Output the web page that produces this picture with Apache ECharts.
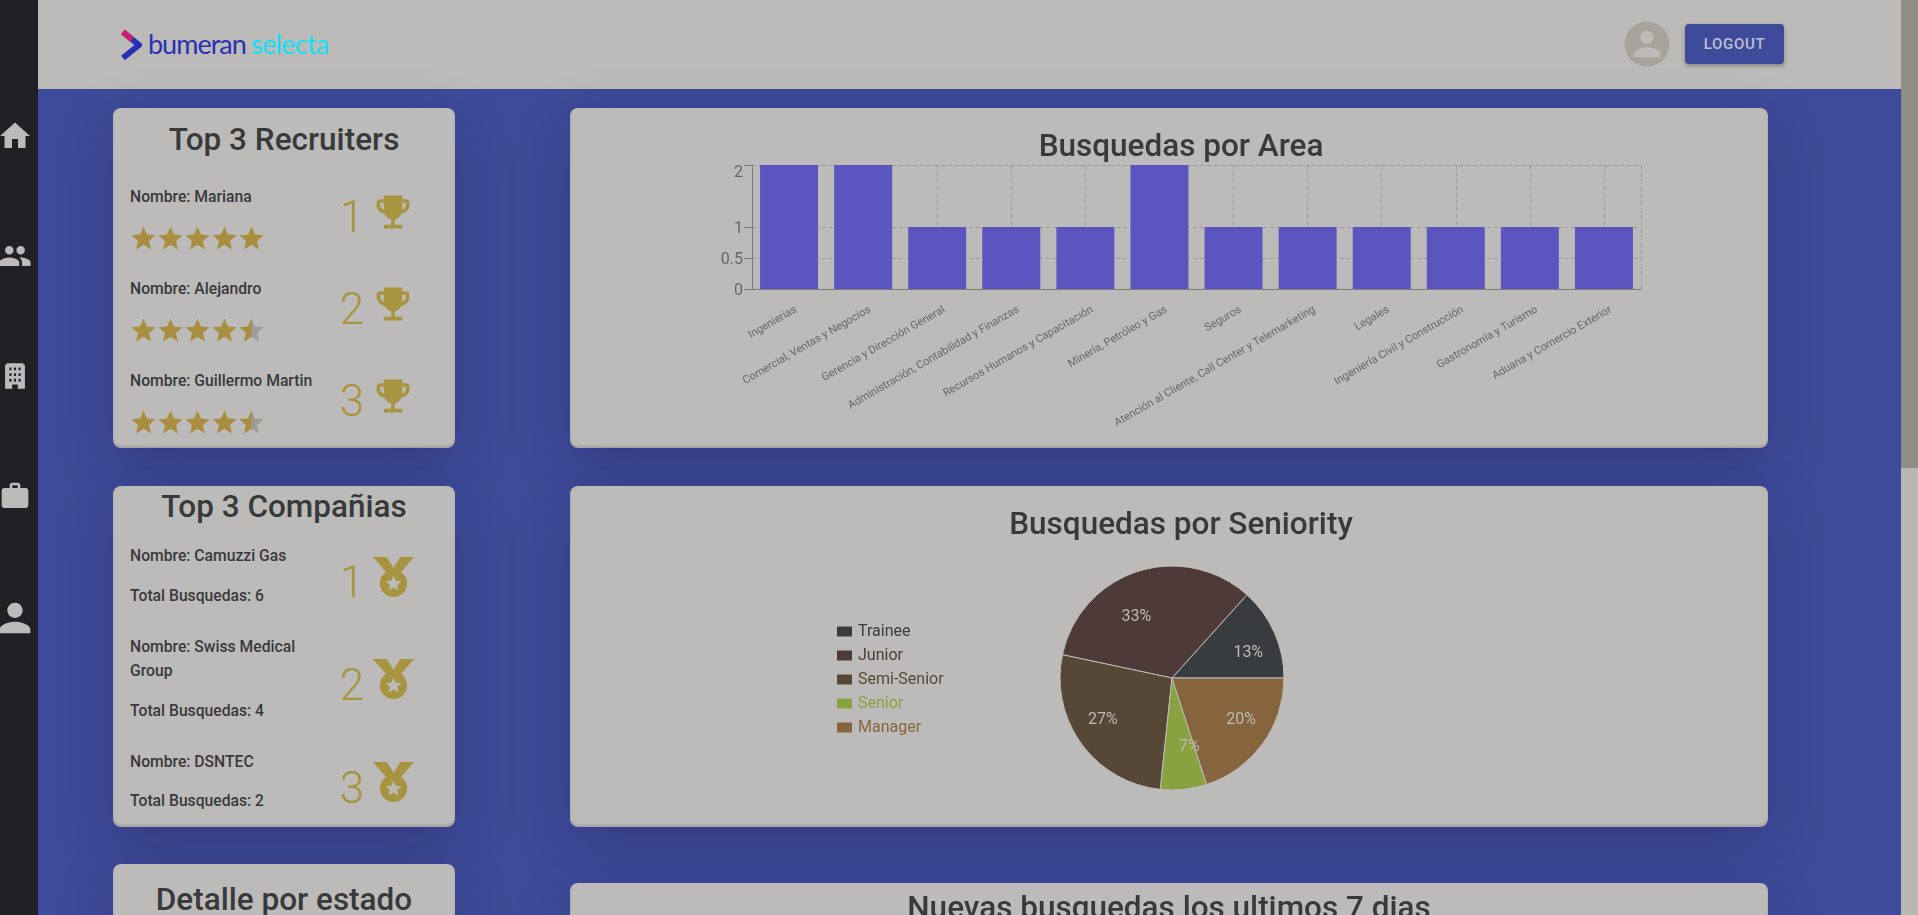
<!DOCTYPE html>
<html lang="es">
<head>
<meta charset="UTF-8">
<title>Dashboard</title>
<script src="https://cdn.jsdelivr.net/npm/echarts@6/dist/echarts.min.js"></script>
<style>
* { box-sizing: border-box; }
html, body { margin: 0; padding: 0; width: 1918px; height: 915px; overflow: hidden; background: #3e4b9a; font-family: Roboto, sans-serif; color: #38393b; }
.abs { position: absolute; }
#side { left: 0; top: 0; width: 38px; height: 915px; background: #202124; }
#side svg { position: absolute; fill: #bdbbb9; }
#top { left: 38px; top: 0; width: 1863px; height: 89px; background: #bdbbb9; }
#scroll { left: 1901px; top: 0; width: 17px; height: 915px; background: #b9b7b3; }
#thumb { left: 1901px; top: 0; width: 17px; height: 468px; background: #908d85; }
.card { position: absolute; background: #bdbbb9; border-radius: 8px; box-shadow: inset 0 -2px 3px rgba(0,0,0,.14), 0 20px 60px rgba(20,20,50,.22); overflow: hidden; }
.cardtitle { position: absolute; left: 0; width: 100%; text-align: center; font-size: 31.5px; font-weight: 500; line-height: 36px; white-space: nowrap; }
.name { position: absolute; left: 17px; width: 175px; font-size: 15.7px; font-weight: 500; line-height: 24px; }
.rank { position: absolute; left: 219px; width: 40px; text-align: center; font-size: 44px; font-weight: 300; line-height: 44px; color: #a69440; }
.card svg { position: absolute; }
#logo1 { left: 148px; top: 26px; font: 400 27px/36px Lato, sans-serif; color: #2831b4; letter-spacing: -1px; }
#logo2 { left: 251px; top: 26px; font: 400 27px/36px Lato, sans-serif; color: #14e0f5; letter-spacing: -.7px; }
#logout { left: 1685px; top: 24px; width: 99px; height: 40px; border-radius: 4px; background: #3e4b9a; color: #bcc0d2; font-size: 15px; font-weight: 500; letter-spacing: .7px; line-height: 40px; text-align: center; box-shadow: 0 2px 4px rgba(0,0,0,.3); }
#areaChart { position: absolute; left: 0; top: 0; width: 1198px; height: 340px; }
#seniorityChart { position: absolute; left: 0; top: 0; width: 1198px; height: 341px; }
</style>
</head>
<body>
<div id="top" class="abs"></div>
<div id="side" class="abs"></div>
<div id="scroll" class="abs"></div>
<div id="thumb" class="abs"></div>

<svg class="abs" style="left:120px;top:29px" width="24" height="32" viewBox="0 0 24 32">
  <path d="M3 3 L19 16 L3 29" fill="none" stroke="#2831b4" stroke-width="6" stroke-linejoin="round"/>
  <path d="M3 3 L12 10.5" fill="none" stroke="#d01c6c" stroke-width="6"/>
</svg>
<div id="logo1" class="abs">bumeran</div>
<div id="logo2" class="abs">selecta</div>

<svg class="abs" style="left:1624px;top:21px" width="46" height="46" viewBox="0 0 46 46">
  <circle cx="23" cy="23" r="22.5" fill="#a5a39b"/>
  <path transform="translate(3,3) scale(1.667)" fill="#bdbbb9" d="M12 12c2.21 0 4-1.79 4-4s-1.79-4-4-4-4 1.79-4 4 1.79 4 4 4zm0 2c-2.67 0-8 1.34-8 4v2h16v-2c0-2.66-5.33-4-8-4z"/>
</svg>
<div id="logout" class="abs">LOGOUT</div>

<div class="card" id="recruiters" style="left:113px;top:108px;width:342px;height:340px">
  <div class="cardtitle" style="top:14px">Top 3 Recruiters</div>
</div>
<div class="card" id="companies" style="left:113px;top:486px;width:342px;height:341px">
  <div class="cardtitle" style="top:3px">Top 3 Compañias</div>
</div>
<div class="card" style="left:113px;top:864px;width:342px;height:120px">
  <div class="cardtitle" style="top:18px">Detalle por estado</div>
</div>

<div class="card" style="left:570px;top:108px;width:1198px;height:340px"><div id="areaChart"></div></div>
<div class="card" style="left:570px;top:486px;width:1198px;height:341px"><div id="seniorityChart"></div></div>
<div class="card" style="left:570px;top:883px;width:1198px;height:120px">
  <div class="cardtitle" style="top:7px">Nuevas busquedas los ultimos 7 dias</div>
</div>

<script type="text/javascript">
// datos del grafico de areas
var areaCategories = ['Ingenierias', 'Comercial, Ventas y Negocios', 'Gerencia y Dirección General',
    'Administración, Contabilidad y Finanzas', 'Recursos Humanos y Capacitación', 'Minería, Petróleo y Gas',
    'Seguros', 'Atención al Cliente, Call Center y Telemarketing', 'Legales', 'Ingeniería Civil y Construcción',
    'Gastronomía y Turismo', 'Aduana y Comercio Exterior'];
var areaValues = [2, 2, 1, 1, 1, 2, 1, 1, 1, 1, 1, 1];
var areaTicks = [0, 0.5, 1, 2];

// datos del grafico de seniority
var seniorityNames = ['Trainee', 'Junior', 'Semi-Senior', 'Senior', 'Manager'];
var seniorityValues = [2, 5, 4, 1, 3];
var seniorityColors = ['#393c3e', '#4e3a39', '#574736', '#88a23f', '#86653e'];

// paneles de la izquierda
var recruiterNames = ['Mariana', 'Alejandro', 'Guillermo Martin'];
var recruiterStars = [5, 4.5, 4.5];
var companyNames = ['Camuzzi Gas', 'Swiss Medical Group', 'DSNTEC'];
var companyTotals = [6, 4, 2];

var STAR = 'M12 17.27L18.18 21l-1.64-7.03L22 9.24l-7.19-.61L12 2 9.19 8.63 2 9.24l5.46 4.73L5.82 21z';
var TROPHY = 'M19 5h-2V3H7v2H5c-1.1 0-2 .9-2 2v1c0 2.55 1.92 4.63 4.39 4.94.63 1.5 1.98 2.63 3.61 2.96V19H7v2h10v-2h-4v-3.1c1.63-.33 2.98-1.46 3.61-2.96C19.08 12.63 21 10.55 21 8V7c0-1.1-.9-2-2-2zM5 8V7h2v3.82C5.84 10.4 5 9.3 5 8zm14 0c0 1.3-.84 2.4-2 2.82V7h2v1z';

function sideIcon(path, y, size) {
    var s = '<svg style="left:' + (15 - size / 2) + 'px;top:' + (y - size / 2) + 'px" width="' + size + '" height="' + size + '" viewBox="0 0 24 24"><path d="' + path + '"/></svg>';
    document.getElementById('side').insertAdjacentHTML('beforeend', s);
}
sideIcon('M10 20v-6h4v6h5v-8h3L12 3 2 12h3v8z', 136, 36);
sideIcon('M16 11c1.66 0 2.99-1.34 2.99-3S17.66 5 16 5c-1.66 0-3 1.34-3 3s1.34 3 3 3zm-8 0c1.66 0 2.99-1.34 2.99-3S9.66 5 8 5C6.34 5 5 6.34 5 8s1.34 3 3 3zm0 2c-2.33 0-7 1.17-7 3.5V19h14v-2.5c0-2.33-4.67-3.5-7-3.5zm8 0c-.29 0-.62.02-.97.05 1.16.84 1.97 1.97 1.97 3.45V19h6v-2.5c0-2.33-4.67-3.5-7-3.5z', 256, 34);
sideIcon('M6 3h12v1h1v17h-5v-3h-4v3H5V4h1zM8 6v2h1.5V6zm3.25 0v2h1.5V6zM14.5 6v2H16V6zM8 10v2h1.5v-2zm3.25 0v2h1.5v-2zM14.5 10v2H16v-2zM8 14v2h1.5v-2zm3.25 0v2h1.5v-2zM14.5 14v2H16v-2z', 376, 34);
sideIcon('M20 6h-4V4c0-1.11-.89-2-2-2h-4c-1.11 0-2 .89-2 2v2H4c-1.11 0-1.99.89-1.99 2L2 19c0 1.11.89 2 2 2h16c1.11 0 2-.89 2-2V8c0-1.11-.89-2-2-2zm-6 0h-4V4h4v2z', 496, 32);
sideIcon('M12 12c2.21 0 4-1.79 4-4s-1.79-4-4-4-4 1.79-4 4 1.79 4 4 4zm0 2c-2.67 0-8 1.34-8 4v2h16v-2c0-2.66-5.33-4-8-4z', 618, 46);

function starRow(score, top) {
    var html = '';
    for (var i = 0; i < 5; i++) {
        var left = 16 + i * 27;
        var fill = score >= i + 1 ? '#a98e40' : '#9e9c97';
        html += '<svg style="left:' + left + 'px;top:' + top + 'px" width="29" height="29" viewBox="0 0 24 24"><path fill="' + fill + '" d="' + STAR + '"/>';
        if (score > i && score < i + 1) {
            html += '<path fill="#a98e40" d="' + STAR + '" style="clip-path:inset(0 50% 0 0)"/>';
        }
        html += '</svg>';
    }
    return html;
}

function medal(left, top) {
    return '<svg style="left:' + left + 'px;top:' + top + 'px" width="41" height="41" viewBox="0 0 42 42">' +
        '<path fill="#a69440" d="M0 0h14l7 11L28 0h14l-13 15-8 3-8-3z"/>' +
        '<circle cx="21" cy="27" r="14" fill="#a69440"/>' +
        '<path fill="#bdbbb9" transform="translate(11.4,17.4) scale(.8)" d="' + STAR + '"/></svg>';
}

var recruitersEl = document.getElementById('recruiters');
var recruiterTops = [77, 169, 261];
recruiterNames.forEach(function (n, i) {
    var t = recruiterTops[i];
    recruitersEl.insertAdjacentHTML('beforeend',
        '<div class="name" style="width:200px;top:' + t + 'px">Nombre: ' + n + '</div>' +
        starRow(recruiterStars[i], t + 39) +
        '<div class="rank" style="top:' + (t + 10) + 'px">' + (i + 1) + '</div>' +
        '<svg style="left:258px;top:' + (t + 5) + 'px" width="44" height="44" viewBox="0 0 24 24"><path fill="#a69440" d="' + TROPHY + '"/></svg>');
});

var companiesEl = document.getElementById('companies');
var nameTop = [58, 149, 264];
var totalTop = [98, 213, 303];
var medalTop = [71, 173, 276];
var rankTop = [74, 177, 280];
companyNames.forEach(function (n, i) {
    companiesEl.insertAdjacentHTML('beforeend',
        '<div class="name" style="top:' + nameTop[i] + 'px">Nombre: ' + n + '</div>' +
        '<div class="name" style="top:' + totalTop[i] + 'px">Total Busquedas: ' + companyTotals[i] + '</div>' +
        medal(260, medalTop[i]) +
        '<div class="rank" style="top:' + rankTop[i] + 'px">' + (i + 1) + '</div>');
});

// grafico de barras
var gridColor = '#9c9a96';
var axisColor = '#7d7c7a';
var bar = echarts.init(document.getElementById('areaChart'));
bar.setOption({
    animation: false,
    title: {
        text: 'Busquedas por Area',
        left: 606,
        textAlign: 'center',
        top: 19,
        textStyle: { fontFamily: 'Roboto', fontSize: 31.5, fontWeight: 500, color: '#38393b' }
    },
    grid: { left: 182, right: 127, top: 57, bottom: 159 },
    xAxis: [{
        type: 'category',
        data: areaCategories,
        axisLine: { lineStyle: { color: axisColor, width: 1 } },
        axisTick: { alignWithLabel: true, length: 7, lineStyle: { color: axisColor } },
        axisLabel: { interval: 0, rotate: 30, margin: 24, padding: [0, -8, 0, 0], fontFamily: 'Roboto', fontSize: 11, color: '#666664' },
        splitLine: { show: true, alignWithLabel: true, lineStyle: { type: [4, 3], color: gridColor } }
    }, {
        // borde superior punteado
        type: 'category',
        position: 'top',
        data: areaCategories,
        axisLine: { show: true, onZero: false, lineStyle: { type: [4, 3], color: gridColor } },
        axisTick: { show: false },
        axisLabel: { show: false },
        splitLine: { show: false }
    }],
    yAxis: [{
        type: 'value',
        min: 0,
        max: 2,
        interval: 0.5,
        axisLine: { show: true, lineStyle: { color: axisColor } },
        axisTick: { show: true, length: 8, customValues: areaTicks, lineStyle: { color: axisColor } },
        axisLabel: {
            customValues: areaTicks,
            margin: 9,
            fontFamily: 'Roboto',
            fontSize: 16,
            color: '#666664',
            verticalAlignMaxLabel: 'top',
            formatter: function (v) { return v === 2 ? String(v) : '{low|' + v + '}'; },
            rich: { low: { fontFamily: 'Roboto', fontSize: 16, color: '#666664', padding: [4, 0, 0, 0] } }
        },
        splitLine: { lineStyle: { type: [4, 3], color: [gridColor, gridColor, gridColor, 'transparent', gridColor] } }
    }, {
        // borde derecho punteado
        type: 'value',
        position: 'right',
        min: 0,
        max: 2,
        axisLine: { show: true, lineStyle: { type: [4, 3], color: gridColor } },
        axisTick: { show: false },
        axisLabel: { show: false },
        splitLine: { show: false }
    }],
    series: [{
        type: 'bar',
        data: areaValues,
        barWidth: 58,
        itemStyle: { color: '#5b55bf' }
    }]
});

// grafico de torta
var PIE_X = 602, PIE_Y = 192, PIE_R = 112;
var seniorityTotal = seniorityValues.reduce(function (a, b) { return a + b; }, 0);
var pie = echarts.init(document.getElementById('seniorityChart'));
pie.setOption({
    animation: false,
    title: {
        text: 'Busquedas por Seniority',
        left: 606,
        textAlign: 'center',
        top: 19,
        textStyle: { fontFamily: 'Roboto', fontSize: 31.5, fontWeight: 500, color: '#38393b' }
    },
    legend: {
        orient: 'vertical',
        left: 260,
        top: 131,
        itemWidth: 17,
        itemHeight: 12,
        itemGap: 5,
        icon: 'rect',
        symbolKeepAspect: false,
        selectedMode: false,
        textStyle: { fontFamily: 'Roboto', fontSize: 16, lineHeight: 19, color: 'inherit' }
    },
    color: seniorityColors,
    series: [{
        type: 'pie',
        center: [PIE_X, PIE_Y],
        radius: [0, PIE_R],
        startAngle: 0,
        clockwise: false,
        data: seniorityNames.map(function (n, i) { return { name: n, value: seniorityValues[i] }; }),
        itemStyle: { borderColor: '#bdbbb9', borderWidth: 1 },
        label: {
            position: 'inside',
            formatter: function (p) { return Math.round(p.percent) + '%'; },
            fontFamily: 'Roboto',
            fontSize: 16,
            color: '#bdbbb9',
            textBorderWidth: 0
        },
        labelLine: { show: false },
        labelLayout: function (p) {
            var before = 0;
            for (var i = 0; i < p.dataIndex; i++) before += seniorityValues[i];
            var mid = (before + seniorityValues[p.dataIndex] / 2) / seniorityTotal * 2 * Math.PI;
            var dx = Math.cos(mid) * PIE_R * 0.6;
            var dy = -Math.sin(mid) * PIE_R * 0.6;
            return { x: PIE_X + dx, y: PIE_Y + dy + 2.5, align: dx > 0 ? 'left' : 'right', verticalAlign: 'middle' };
        }
    }]
});
</script>
</body>
</html>
